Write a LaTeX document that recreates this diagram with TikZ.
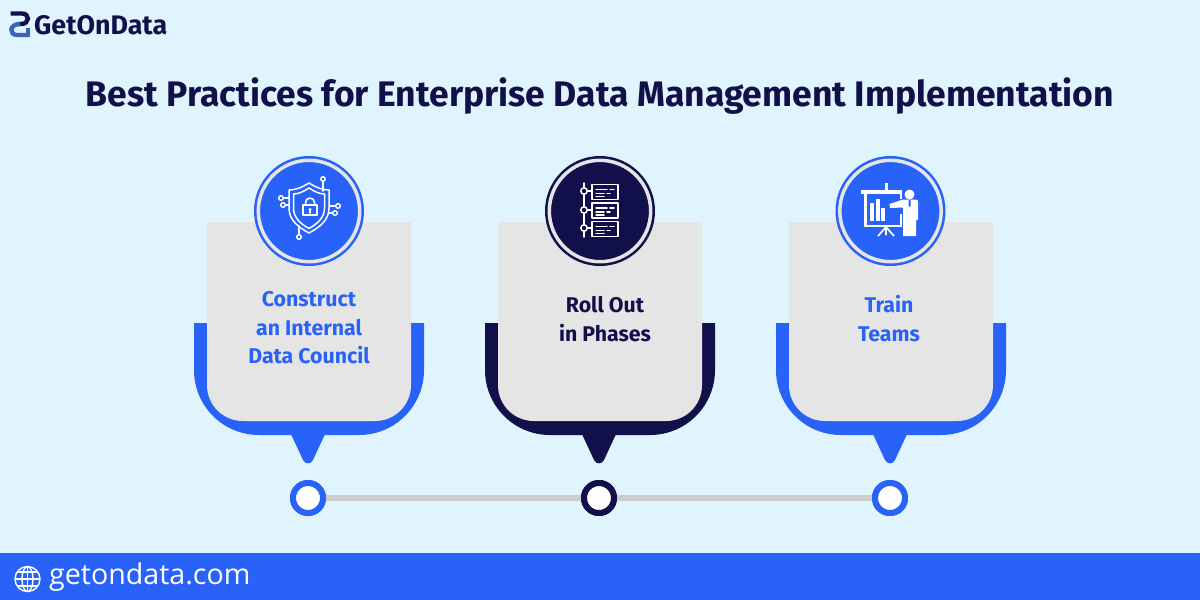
\documentclass[tikz,border=0pt]{standalone}
\usepackage{fontspec}
\setmainfont{Fira Sans}
\newfontfamily\urlfont{Open Sans}
\definecolor{bgc}{HTML}{DFF4FD}
\definecolor{cblue}{HTML}{2962F8}
\definecolor{cnavy}{HTML}{11104A}
\definecolor{cgray}{HTML}{E5E5E5}
\definecolor{cline}{HTML}{CCCCCC}
\definecolor{clogo}{HTML}{3F63B8}
\tikzset{
  lab/.style={font=\fontsize{21.3}{24}\selectfont\bfseries,align=center,inner sep=0pt},
  ico/.style={white,line width=1.5pt,line cap=round,line join=round},
  dotmark/.style={circle,fill=white,line width=6pt,minimum size=30pt,inner sep=0pt},
}
\begin{document}
\begin{tikzpicture}[x=1pt,y=-1pt]
\useasboundingbox (0,0) rectangle (1200,600);
\fill[bgc] (0,0) rectangle (1200,600);
\fill[cblue] (0,553) rectangle (1200,600);

% stops and connectors
\node[dotmark,draw=cblue] (s1) at (308,498) {};
\node[dotmark,draw=cnavy] (s2) at (599,498) {};
\node[dotmark,draw=cblue] (s3) at (890,498) {};
\draw[cline,line width=6pt] (s1.east) -- (s2.west);
\draw[cline,line width=6pt] (s2.east) -- (s3.west);
\node[dotmark,draw=cblue] at (s1) {};
\node[dotmark,draw=cnavy] at (s2) {};
\node[dotmark,draw=cblue] at (s3) {};

% cards
\foreach \cx/\tx/\col in {309/308/cblue,600/599/cnavy,891/890/cblue}{
  \begin{scope}[shift={(\cx,0)}]
  \fill[\col] (-115,323) -- (-115,370) .. controls (-115,406) and (-86,435) .. (-50,435)
     -- (50,435) .. controls (86,435) and (115,406) .. (115,370) -- (115,323) -- cycle;
  \fill[cgray] (-102,222) -- (-102,385) .. controls (-102,405) and (-86,421) .. (-66,421)
     -- (66,421) .. controls (86,421) and (102,405) .. (102,385) -- (102,222) -- cycle;
  \end{scope}
  \fill[\col] (\tx-18,432) -- (\tx+18,432) -- (\tx+5,460) .. controls (\tx+2.5,464.5) and (\tx-2.5,464.5) .. (\tx-5,460) -- cycle;
}
\foreach \cx/\col in {309/cblue,600/cnavy,890.5/cblue}{
  \fill[\col] (\cx,211) circle[radius=55];
  \draw[cgray,line width=3.5pt] (\cx,211) circle[radius=50.7];
}

% icon 1: shield
\begin{scope}[ico]
\draw (309,183) .. controls (301,188) and (295,190) .. (289,190) -- (289,208) .. controls (289,220) and (298,227) .. (309,233) .. controls (320,227) and (329,220) .. (329,208) -- (329,190) .. controls (323,190) and (317,188) .. (309,183);
\draw (309,188) .. controls (303,192) and (298,194) .. (293.5,194) -- (293.5,208) .. controls (293.5,218) and (301,224) .. (309,228.5) .. controls (317,224) and (324.5,218) .. (324.5,208) -- (324.5,194) .. controls (320,194) and (315,192) .. (309,188);
\draw (303,205) rectangle (317,215);
\draw (305.5,205) -- (305.5,202.5) arc[start angle=180,end angle=360,radius=4.5] -- (314.5,205);
\fill[white] (310,209.5) circle[radius=1.6];
\draw (310,209.5) -- (310,213);
\draw (323,182) -- (323,191);
\draw (323,179) circle[radius=2.2];
\draw (283.5,198) -- (289,198); \draw (281,198) circle[radius=2.3];
\draw (285.5,205) -- (289,205); \draw (283,205) circle[radius=2.3];
\draw (329,206) -- (335.5,206); \draw (338,206) circle[radius=2.3];
\draw (329,213) -- (332.5,213); \draw (335,213) circle[radius=2.3];
\draw (299,226) -- (299,234.5); \draw (299,237) circle[radius=2.3];
\end{scope}

% icon 2: phases
\begin{scope}[ico]
\draw (584,183) -- (584,187.5) (584,194.5) -- (584,206.5) (584,213.5) -- (584,224.5) (584,231.5) -- (584,237);
\foreach \y/\t in {191/184.5,210/203,228/221.5}{
  \draw (584,\y) circle[radius=3.2];
  \draw (587.2,\y) -- (592,\y);
  \draw (592,\t) rectangle (618,\t+15);
  \draw (596,\t+5) -- (607,\t+5) (610,\t+5) -- (614,\t+5) (596,\t+9) -- (604,\t+9) (596,\t+12) -- (604,\t+12) (607,\t+9) -- (610,\t+9);
}
\end{scope}

% icon 3: presentation
\fill[white] (861,190) rectangle (902,193.5);
\fill[white] (885,183) rectangle (887.5,190);
\fill[white] (864,193.5) rectangle (866.5,227);
\fill[white] (864,224.5) rectangle (902,227);
\fill[white] (899.5,193.5) rectangle (902,199);
\fill[white] (899.5,214) rectangle (902,227);
\fill[white] (870,203) rectangle (873.5,221);
\fill[white] (875.7,199) rectangle (879.5,221);
\fill[white] (881,208) rectangle (885,221);
\draw[white,line width=1.7pt] (878,236) -- (886,227) -- (894,236) (886,227) -- (886,235);
\fill[white] (909.5,194.5) circle[radius=5];
\fill[white] (889.5,204) -- (903,199.5) -- (916,199.5) .. controls (917.5,199.5) and (918,200.5) .. (918,202) -- (918,220) -- (916,220) -- (916,236) -- (903,236) -- (903,207.5) -- (890,208) -- cycle;
\fill[cblue] (908.5,200) -- (910.5,200) -- (910.5,206) -- (909.5,207) -- (908.5,206) -- cycle;

% logo
\draw[cnavy,line width=4.4pt] (10.5,13.5) -- (22,13.5) .. controls (30,13.5) and (30,24) .. (21,24) -- (18,24);
\draw[clogo,line width=4.4pt] (20,24) .. controls (9,24) and (9,35) .. (17,35) -- (28,35);
\fill[clogo] (25.5,28) rectangle (30,37);
\node[inner sep=0pt,anchor=west,text=cnavy,font=\fontsize{26.8}{28}\selectfont\bfseries] (logo) at (34,25) {GetOnData};

% title
\node[inner sep=0pt,text=cnavy,font=\fontsize{35.5}{42}\selectfont\bfseries] (title) at (600,96.5) {Best Practices for Enterprise Data Management Implementation};

% labels
\node[lab,text=cblue] (l1) at (309,328) {Construct\\[4.5pt]an Internal\\[4.5pt]Data Council};
\node[lab,text=cnavy] (l2) at (605,319) {Roll Out\\[4.5pt]in Phases};
\node[lab,text=cblue] (l3) at (889,318.5) {Train\\[4.5pt]Teams};

% footer
\begin{scope}[white,line width=1.4pt]
\draw (27.5,579) circle[radius=12.5];
\draw (27.5,579) ellipse[x radius=5.5,y radius=12.5];
\draw (15,579) -- (40,579) (27.5,566.5) -- (27.5,591.5);
\draw (17,572) -- (38,572) (17,586) -- (38,586);
\end{scope}
\node[inner sep=0pt,anchor=west,text=white,font=\urlfont\fontsize{28.6}{32}\selectfont] (url) at (49,577.5) {getondata.com};
\end{tikzpicture}
\end{document}
